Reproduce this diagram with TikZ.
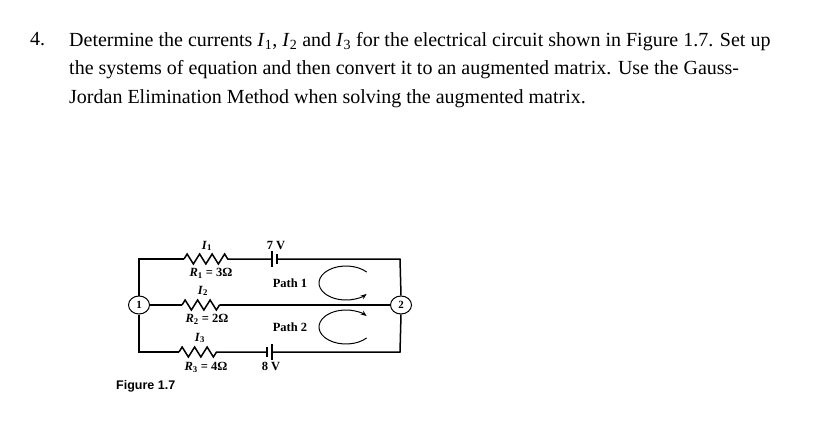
\documentclass[tikz,border=0pt]{standalone}
\usepackage{fontspec}
\setmainfont{Liberation Serif}
\newfontfamily\figfont{Liberation Sans}
\usetikzlibrary{decorations.pathmorphing,arrows.meta,calc,shapes.geometric}
\newcommand{\cur}[2]{\textit{#1}\textsubscript{#2}}
\begin{document}
\begin{tikzpicture}[x=1pt,y=-1pt,
  wire/.style={line width=1.5pt},
  res/.style={wire,decorate,decoration={zigzag,segment length=12.5pt,amplitude=5pt}},
  lbl/.style={font=\fontsize{12.5}{13}\selectfont\bfseries,inner sep=0pt},
  junc/.style={draw,ellipse,line width=1pt,minimum width=21pt,minimum height=18pt,inner sep=0pt,font=\fontsize{11}{12}\selectfont\bfseries,fill=white},
  loop/.style={line width=1pt,-{Stealth[length=6pt]}},
  qtext/.style={font=\fontsize{20}{28.5}\selectfont,inner sep=0pt,anchor=north west,align=left}]
\useasboundingbox (0,0) rectangle (838,426);
\node[qtext] (num) at (30,32) {4.};
\node[qtext] (q) at (69,32) {Determine the currents \cur{I}{1}, \cur{I}{2} and \cur{I}{3} for the electrical circuit shown in Figure 1.7. Set up\\the systems of equation and then convert it to an augmented matrix. Use the Gauss-\\Jordan Elimination Method when solving the augmented matrix.};
% nodes
\node[junc] (n1) at (139,305) {1};
\node[junc] (n2) at (401,305) {2};
\coordinate (tr) at (400,259);
\coordinate (br) at (400,352);
\coordinate (r1a) at (184,259); \coordinate (r1b) at (228,259);
\coordinate (b1a) at (272,259); \coordinate (b1b) at (277,259);
\coordinate (r2a) at (182,305); \coordinate (r2b) at (220,305);
\coordinate (r3a) at (179,352); \coordinate (r3b) at (219,352);
\coordinate (b3a) at (267,352); \coordinate (b3b) at (272,352);
% top branch
\draw[wire] (n1.north) |- (r1a);
\draw[res] (r1a) -- (r1b);
\draw[wire] (r1b) -- (b1a) (b1b) -- (tr) -- (n2.north);
\draw[line width=1.3pt] ($(b1a)+(0,-8)$) -- ($(b1a)+(0,8)$);
\draw[line width=1.3pt] ($(b1b)+(0,-5)$) -- ($(b1b)+(0,5)$);
% middle
\draw[wire] (n1.east) -- (r2a);
\draw[res] (r2a) -- (r2b);
\draw[wire] (r2b) -- (n2.west);
% bottom
\draw[wire] (n1.south) |- (r3a);
\draw[res] (r3a) -- (r3b);
\draw[wire] (r3b) -- (b3a) (b3b) -- (br) -- (n2.south);
\draw[line width=1.3pt] ($(b3a)+(0,-5)$) -- ($(b3a)+(0,5)$);
\draw[line width=1.3pt] ($(b3b)+(0,-8)$) -- ($(b3b)+(0,8)$);
% labels
\node[lbl] (i1) at (207,246) {\cur{I}{1}};
\node[lbl] (l1) at (211,273) {\cur{R}{1} = 3Ω};
\node[lbl] (v7) at (276,245) {7 V};
\node[lbl] (i2) at (203,291) {\cur{I}{2}};
\node[lbl] (l2) at (207,319) {\cur{R}{2} = 2Ω};
\node[lbl] (i3) at (200,338) {\cur{I}{3}};
\node[lbl] (l3) at (206,367) {\cur{R}{3} = 4Ω};
\node[lbl] (v8) at (271,366) {8 V};
\node[lbl] (p1) at (290,283) {Path 1};
\node[lbl] (p2) at (290,327) {Path 2};
% loops
\coordinate (c1) at (346,283);
\coordinate (c2) at (346,327);
\draw[loop] ($(c1)+(40:27pt and 17pt)$) arc (40:320:27pt and 17pt);
\draw[loop] ($(c2)+(-40:27pt and 17pt)$) arc (-40:-320:27pt and 17pt);
\node[font=\figfont\bfseries\fontsize{12.5}{13}\selectfont,inner sep=0pt,anchor=west] (fig) at (116,386) {Figure 1.7};
\end{tikzpicture}
\end{document}
